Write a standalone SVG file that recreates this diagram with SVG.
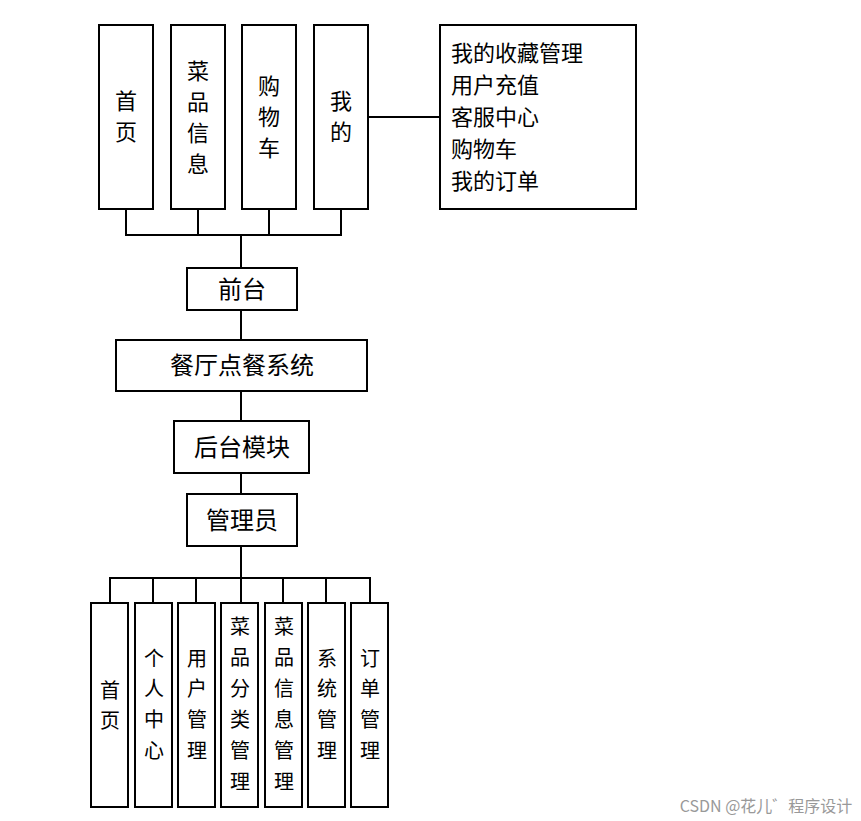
<svg xmlns="http://www.w3.org/2000/svg" width="861" height="821" viewBox="0 0 861 821">
<style>
rect{fill:#fff;stroke:#000;stroke-width:2}
.c line{stroke:#000;stroke-width:2}
text{font-family:"Noto Sans CJK SC","Liberation Serif",serif;fill:#000;text-anchor:middle}
.t{font-size:22px}
.h{font-size:24px}
.b{font-size:20px}
.l{text-anchor:start}
</style>
<rect x="0" y="0" width="861" height="821" style="stroke:none"/>
<g class="c">
<line x1="368" y1="117" x2="440" y2="117"/>
<line x1="126" y1="209" x2="126" y2="235"/><line x1="198" y1="209" x2="198" y2="235"/>
<line x1="269" y1="209" x2="269" y2="235"/><line x1="341" y1="209" x2="341" y2="235"/>
<line x1="125" y1="235" x2="342" y2="235"/>
<line x1="241" y1="235" x2="241" y2="268"/>
<line x1="241" y1="310" x2="241" y2="340"/>
<line x1="241" y1="391" x2="241" y2="421"/>
<line x1="241" y1="473" x2="241" y2="494"/>
<line x1="241" y1="546" x2="241" y2="603"/>
<line x1="109" y1="578" x2="371" y2="578"/>
<line x1="110" y1="578" x2="110" y2="603"/><line x1="153" y1="578" x2="153" y2="603"/>
<line x1="196" y1="578" x2="196" y2="603"/>
<line x1="283" y1="578" x2="283" y2="603"/><line x1="326" y1="578" x2="326" y2="603"/>
<line x1="370" y1="578" x2="370" y2="603"/>
</g>
<g id="n1"><rect x="99" y="25" width="54" height="184"/><text class="t" x="126" y="109">首</text><text class="t" x="126" y="140">页</text></g>
<g id="n2"><rect x="171" y="25" width="54" height="184"/><text class="t" x="198" y="79">菜</text><text class="t" x="198" y="110">品</text><text class="t" x="198" y="141">信</text><text class="t" x="198" y="172">息</text></g>
<g id="n3"><rect x="242" y="25" width="54" height="184"/><text class="t" x="269" y="94">购</text><text class="t" x="269" y="125">物</text><text class="t" x="269" y="156">车</text></g>
<g id="n4"><rect x="314" y="25" width="54" height="184"/><text class="t" x="341" y="109">我</text><text class="t" x="341" y="140">的</text></g>
<g id="n5"><rect x="440" y="25" width="196" height="184"/>
<text class="t l" x="451" y="61">我的收藏管理</text><text class="t l" x="451" y="93">用户充值</text><text class="t l" x="451" y="125">客服中心</text><text class="t l" x="451" y="157">购物车</text><text class="t l" x="451" y="189">我的订单</text></g>
<g id="n6"><rect x="187" y="268" width="110" height="42"/><text class="h" x="242" y="298">前台</text></g>
<g id="n7"><rect x="116" y="340" width="251" height="51"/><text class="h" x="242" y="374">餐厅点餐系统</text></g>
<g id="n8"><rect x="174" y="421" width="135" height="52"/><text class="h" x="242" y="456">后台模块</text></g>
<g id="n9"><rect x="187" y="494" width="110" height="52"/><text class="h" x="242" y="529">管理员</text></g>
<g id="m1"><rect x="91" y="603" width="37" height="204"/><text class="b" x="110" y="698">首</text><text class="b" x="110" y="728">页</text></g>
<g id="m2"><rect x="135" y="603" width="37" height="204"/><text class="b" x="154" y="666">个</text><text class="b" x="154" y="696">人</text><text class="b" x="154" y="727">中</text><text class="b" x="154" y="758">心</text></g>
<g id="m3"><rect x="178" y="603" width="37" height="204"/><text class="b" x="197" y="666">用</text><text class="b" x="197" y="696">户</text><text class="b" x="197" y="727">管</text><text class="b" x="197" y="758">理</text></g>
<g id="m4"><rect x="221" y="603" width="37" height="204"/><text class="b" x="240" y="634">菜</text><text class="b" x="240" y="665">品</text><text class="b" x="240" y="696">分</text><text class="b" x="240" y="727">类</text><text class="b" x="240" y="758">管</text><text class="b" x="240" y="789">理</text></g>
<g id="m5"><rect x="265" y="603" width="37" height="204"/><text class="b" x="284" y="634">菜</text><text class="b" x="284" y="665">品</text><text class="b" x="284" y="696">信</text><text class="b" x="284" y="727">息</text><text class="b" x="284" y="758">管</text><text class="b" x="284" y="789">理</text></g>
<g id="m6"><rect x="308" y="603" width="37" height="204"/><text class="b" x="327" y="666">系</text><text class="b" x="327" y="696">统</text><text class="b" x="327" y="727">管</text><text class="b" x="327" y="758">理</text></g>
<g id="m7"><rect x="351" y="603" width="37" height="204"/><text class="b" x="370" y="666">订</text><text class="b" x="370" y="696">单</text><text class="b" x="370" y="727">管</text><text class="b" x="370" y="758">理</text></g>
<text x="766" y="812" style="font-size:16px;fill:#999">CSDN @花儿゛程序设计</text>
</svg>
